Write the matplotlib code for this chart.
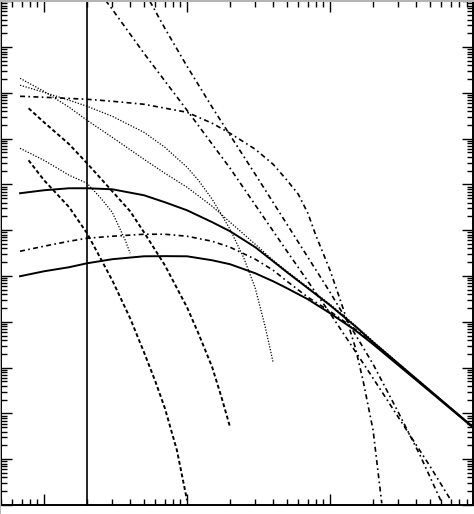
import numpy as np
import matplotlib
matplotlib.use("Agg")
import matplotlib.pyplot as plt
from matplotlib.patches import Rectangle
from matplotlib.ticker import LogLocator, NullFormatter

# values (log-log axes)
x_full = [0.68, 1, 1.5, 2, 3, 5, 7, 10, 15, 20, 30, 40, 50, 70, 100, 150, 200, 300, 500, 1000]

solid_upper = [0.0643, 0.0747, 0.0826, 0.0826, 0.0785, 0.0581, 0.0409, 0.0273, 0.0150, 0.0095, 0.00426, 2.1e-3,
               0.00121, 5.42e-4, 2.30e-4, 8.0e-5, 3.59e-5, 1.23e-5, 3.17e-6, 5.05e-7]
solid_lower = [9.9e-4, 1.27e-3, 1.56e-3, 1.90e-3, 2.33e-3, 2.70e-3, 2.72e-3, 2.70e-3, 2.21e-3, 1.81e-3, 1.15e-3, 7.69e-4,
               5.42e-4, 3.11e-4, 1.54e-4, 6.56e-5, 3.24e-5, 1.13e-5, 3.0e-6, 4.9e-7]
dashdot_lower = [3.48e-3, 4.48e-3, 5.75e-3, 6.69e-3, 7.40e-3, 8.18e-3, 8.18e-3, 7.40e-3, 5.75e-3, 4.26e-3, 2.33e-3, 1.34e-3,
                 7.69e-4, 3.44e-4, 1.70e-4, 6.89e-5, 3.4e-5, 1.18e-5, 3.1e-6, 5.0e-7]
dotted_long = [20.8, 10.8, 4.85, 2.52, 1.07, 0.355, 0.176, 0.0869, 0.0334, 0.0150, 4.94e-3, 2.21e-3,
               1.27e-3, 5.69e-4, 2.42e-4, 8.43e-5, 3.77e-5, 1.25e-5, 3.21e-6, 5.0e-7]

x_dd_top = [0.68, 1, 2, 3, 5, 10, 15, 20, 30, 40, 50, 60, 70, 80, 100, 120, 130, 150, 170, 200, 230]
dashdot_top = [8.43, 8.02, 7.25, 6.56, 5.64, 3.77, 2.17, 1.31, 0.587, 0.276, 0.124, 0.0611, 0.0235, 7.40e-3,
               1.34e-3, 2.55e-4, 1.20e-4, 2.79e-5, 5.31e-6, 4.30e-7, 1.09e-8]

x_dotted_mid = [0.68, 1, 1.5, 2, 3, 5, 7, 10, 12, 15, 17.5, 20, 25, 30, 35, 40]
dotted_mid = [14.7, 10.3, 6.89, 5.10, 3.08, 1.38, 0.649, 0.238, 0.124, 0.0475, 0.0213, 0.0105, 2.45e-3, 5.42e-4,
              8.43e-5, 1.31e-5]

x_dotted_short = [0.68, 1, 1.5, 2, 2.5, 3, 3.7, 4]
dotted_short = [0.617, 0.337, 0.159, 0.106, 0.050, 0.0247, 6.05e-3, 3.15e-3]

x_dashed = [0.78, 1, 1.5, 2, 3, 4, 5, 7, 10, 12, 15, 17.5, 20]
dashed_a = [4.61, 2.28, 0.755, 0.290, 0.0711, 0.026, 9.04e-3, 1.72e-3, 2.08e-4, 5.64e-5, 1.02e-5, 2.15e-6, 5.0e-7]
x_dashed_b = [0.78, 1, 1.5, 2, 3, 4, 5, 6, 7, 8.5, 10]
dashed_b = [0.337, 0.124, 0.0318, 8.6e-3, 8.1e-4, 1.20e-4, 2.17e-5, 5.05e-6, 1.30e-6, 1.57e-7, 1.27e-8]

x_steep_a = [2.7, 3, 5, 10, 20, 50, 100, 200, 500, 700]
steep_a = [1.04e3, 668, 73.2, 4.17, 0.226, 3.48e-3, 1.54e-4, 5.87e-6, 7.03e-8, 1.27e-8]
x_steep_b = [5.5, 7, 10, 15, 20, 30, 50, 100, 200, 300, 426, 607]
steep_b = [1.0e3, 257, 38.1, 4.85, 1.19, 0.167, 0.0135, 4.43e-4, 1.19e-5, 1.06e-6, 1.22e-7, 1.09e-8]

x_marker = 2.0

fig = plt.figure(figsize=(4.74, 5.14), dpi=100)
ax = fig.add_axes([0.002, 0.0175, 0.996, 0.98])

k = "black"
dashdot = (0, (3, 2, 1, 2))
dots = (0, (1, 1.3))
dashes = (0, (2, 1.3))
ax.plot(x_full, solid_upper, color=k, lw=1.4)
ax.plot(x_full, solid_lower, color=k, lw=1.4)
ax.plot(x_full, dashdot_lower, color=k, lw=1.2, linestyle=dashdot)
ax.plot(x_full, dotted_long, color=k, lw=0.9, linestyle=dots)
ax.plot(x_dd_top, dashdot_top, color=k, lw=1.2, linestyle=dashdot)
ax.plot(x_dotted_mid, dotted_mid, color=k, lw=0.9, linestyle=dots)
ax.plot(x_dotted_short, dotted_short, color=k, lw=0.9, linestyle=dots)
ax.plot(x_dashed, dashed_a, color=k, lw=1.4, linestyle=dashes)
ax.plot(x_dashed_b, dashed_b, color=k, lw=1.4, linestyle=dashes)
ax.plot(x_steep_a, steep_a, color=k, lw=1.2, linestyle=dashdot)
ax.plot(x_steep_b, steep_b, color=k, lw=1.2, linestyle=dashdot)
ax.axvline(x_marker, color=k, lw=1.2)

ax.set_xscale("log")
ax.set_yscale("log")
ax.set_xlim(0.5, 1000)
ax.set_ylim(1e-8, 1e3)

for axis in (ax.xaxis, ax.yaxis):
    axis.set_major_locator(LogLocator(base=10, numticks=30))
    axis.set_minor_locator(LogLocator(base=10, subs=np.arange(2, 10), numticks=30))
    axis.set_major_formatter(NullFormatter())
    axis.set_minor_formatter(NullFormatter())

ax.tick_params(which="both", direction="in", top=True, right=True, color=k)
ax.tick_params(which="major", length=8, width=1)
ax.tick_params(which="minor", length=4, width=1)
for s in ax.spines.values():
    s.set_linewidth(1.4)

# grey scan edges on the left and top of the original
fig.add_artist(Rectangle((0, 0), 0.003, 1, transform=fig.transFigure, color="#b4b4b4", lw=0))
fig.add_artist(Rectangle((0, 0.996), 1, 0.004, transform=fig.transFigure, color="#b4b4b4", lw=0))

fig.savefig("out.png", dpi=100)
